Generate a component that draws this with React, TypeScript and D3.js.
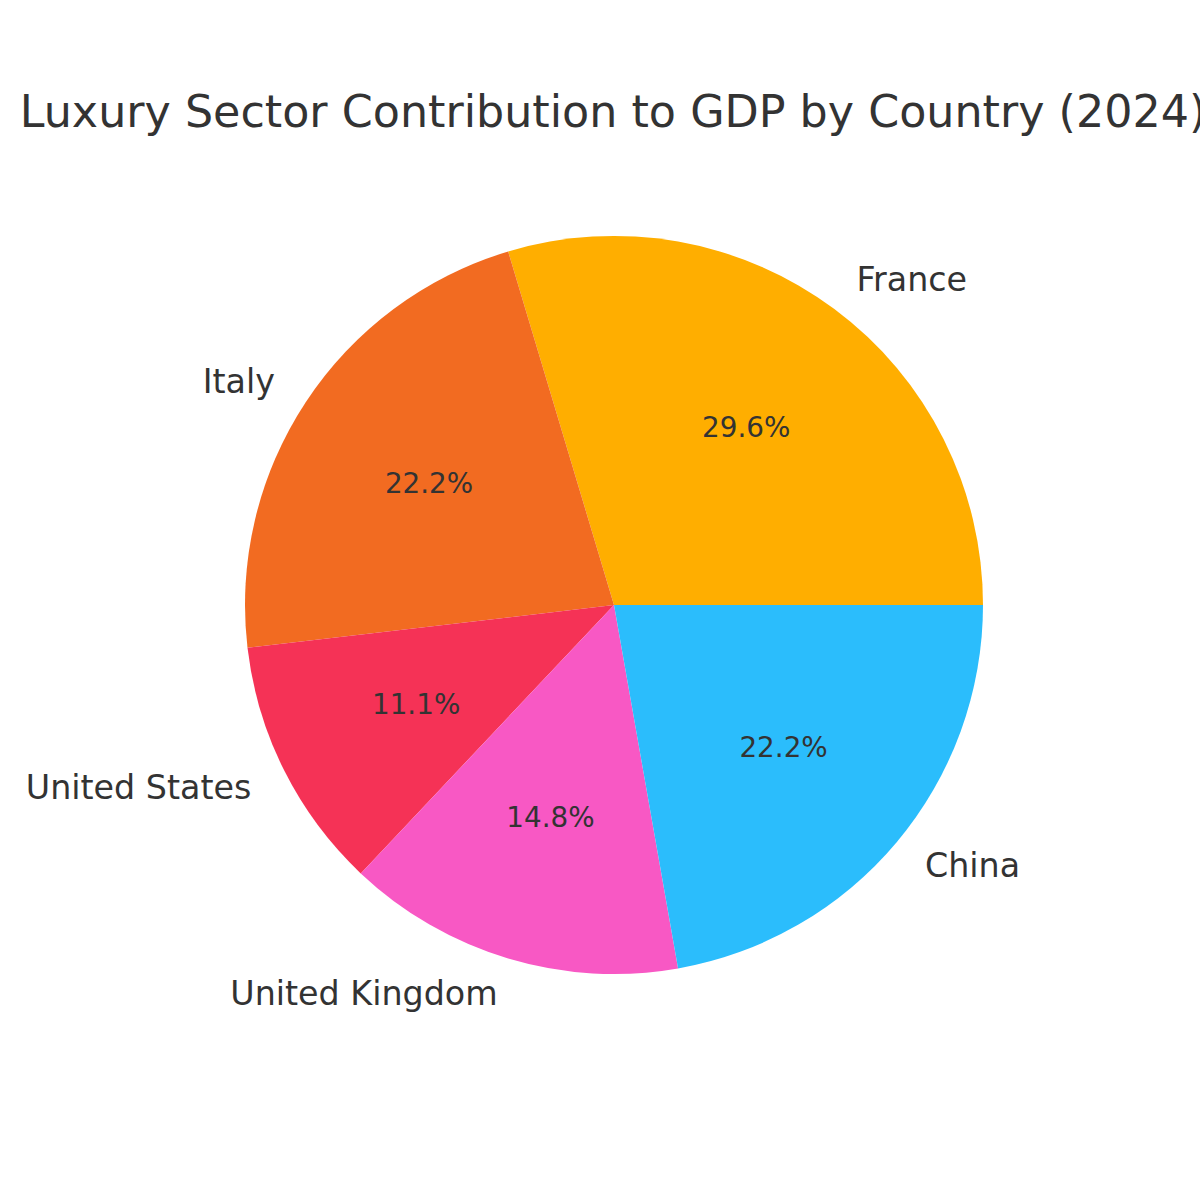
import React from "react";
import * as d3 from "d3";

const countries = ["France", "Italy", "United States", "United Kingdom", "China"];
const shares = [8, 6, 3, 4, 6];
const colors = ["#FFAE00", "#F26B21", "#F53256", "#F858C4", "#2BBDFC"];
const title = "Luxury Sector Contribution to GDP by Country (2024)";

const WIDTH = 1200;
const HEIGHT = 1200;
const CX = 614;
const CY = 605;
const R = 369;
const TEXT = "#333333";
const FONT = "DejaVu Sans, sans-serif";

export default function App() {
  const data = countries.map((c, i) => ({ name: c, value: shares[i], color: colors[i] }));
  const total = d3.sum(shares);

  // matplotlib style: start at 3 o'clock, go counterclockwise
  const pie = d3
    .pie<{ name: string; value: number; color: string }>()
    .value((d) => d.value)
    .sort(null)
    .startAngle(Math.PI / 2)
    .endAngle(Math.PI / 2 - 2 * Math.PI);
  const arcs = pie(data);

  const arc = d3.arc<any>().innerRadius(0).outerRadius(R);
  const labelArc = d3.arc<any>().innerRadius(R * 1.1).outerRadius(R * 1.1);
  const pctArc = d3.arc<any>().innerRadius(R * 0.6).outerRadius(R * 0.6);

  return (
    <svg width={WIDTH} height={HEIGHT} style={{ position: "absolute", left: 0, top: 0 }}>
      <rect width={WIDTH} height={HEIGHT} fill="#ffffff" />
      <text x={613} y={127} textAnchor="middle" fontFamily={FONT} fontSize={44.4} fill={TEXT}>
        {title}
      </text>
      <g transform={`translate(${CX},${CY})`}>
        {arcs.map((a) => (
          <path key={a.data.name} d={arc(a) || ""} fill={a.data.color} />
        ))}
        {arcs.map((a) => {
          const [lx, ly] = labelArc.centroid(a);
          return (
            <text
              key={"l" + a.data.name}
              x={lx}
              y={ly}
              textAnchor={lx > 0 ? "start" : "end"}
              dominantBaseline="central"
              fontFamily={FONT}
              fontSize={33.3}
              fill={TEXT}
            >
              {a.data.name}
            </text>
          );
        })}
        {arcs.map((a) => {
          const [px, py] = pctArc.centroid(a);
          return (
            <text
              key={"p" + a.data.name}
              x={px}
              y={py}
              textAnchor="middle"
              dominantBaseline="central"
              fontFamily={FONT}
              fontSize={27.8}
              fill={TEXT}
            >
              {((a.data.value / total) * 100).toFixed(1) + "%"}
            </text>
          );
        })}
      </g>
    </svg>
  );
}
